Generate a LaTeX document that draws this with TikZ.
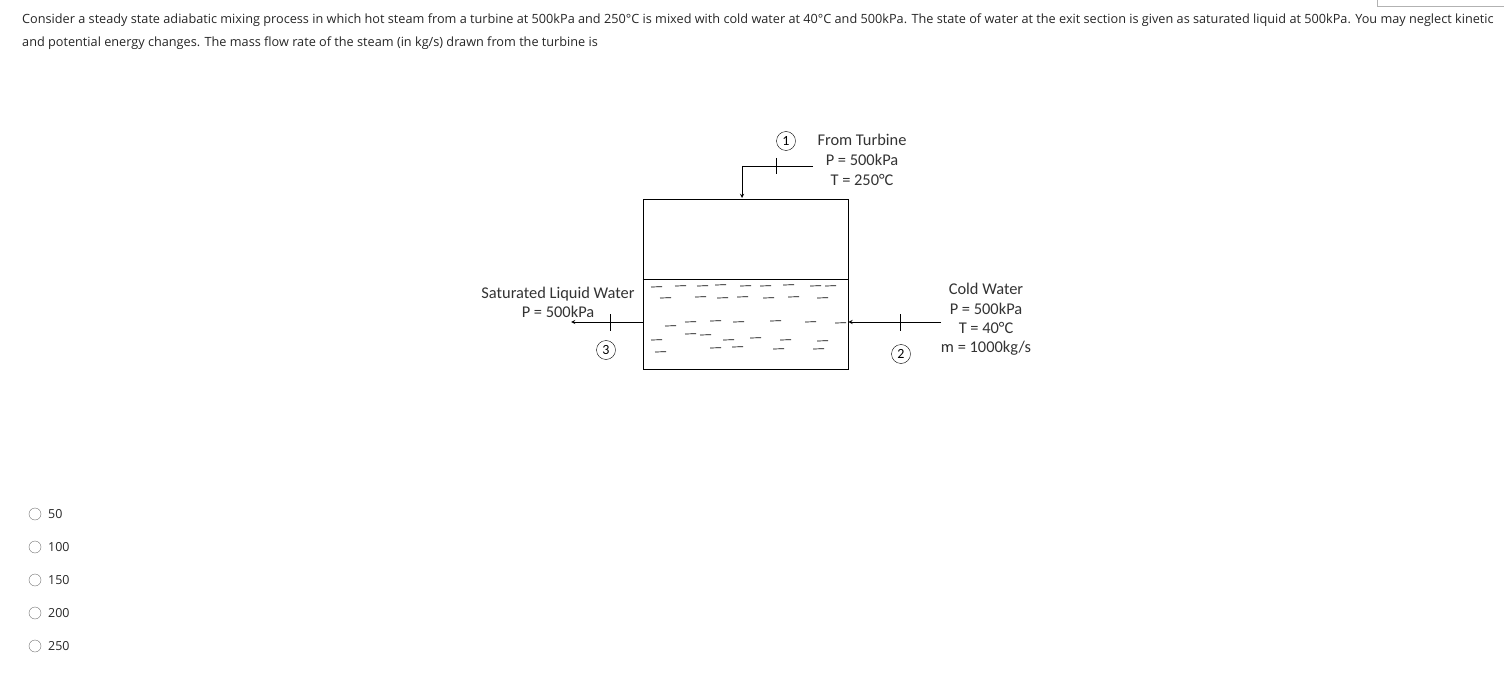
\documentclass[tikz,border=0pt]{standalone}
\usepackage{fontspec}
\setmainfont{Open Sans}
\newfontfamily\diafont{Carlito}
\newcommand{\mdotx}{\ooalign{m\cr\hidewidth\raisebox{0.62ex}{.}\hidewidth\cr}}
\begin{document}
\begin{tikzpicture}[x=1pt,y=-1pt,
  q/.style={anchor=base west,inner sep=0pt,font=\fontsize{12.7}{14}\selectfont,text=black!85},
  lab/.style={inner sep=0pt,font=\diafont\fontsize{16.4}{18}\selectfont,text=black!80},
  num/.style={circle,draw,minimum size=19pt,inner sep=0pt,font=\diafont\fontsize{14}{16}\selectfont},
  pipe/.style={line width=0.9pt,-stealth},
  radio/.style={circle,draw=black!55,minimum size=12pt,inner sep=0pt},
  ans/.style={anchor=west,inner sep=0pt,font=\fontsize{12.45}{14}\selectfont,text=black!85}]
\useasboundingbox (0,0) rectangle (1504,676);
\draw[black!30] (1377,-2) -- (1377,6) -- (1506,6);
\node[q] (l1) at (22,24) {Consider a steady state adiabatic mixing process in which hot steam from a turbine at 500kPa and 250°C is mixed with cold water at 40°C and 500kPa. The state of water at the exit section is given as saturated liquid at 500kPa. You may neglect kinetic};
\node[q] (l2) at (22,47) {and potential energy changes. The mass flow rate of the steam (in kg/s) drawn from the turbine is};
% tank
\node[draw,line width=0.8pt,minimum width=205pt,minimum height=170pt,inner sep=0pt] (tank) at (745.5,284) {};
\draw[line width=0.8pt] (tank.west |- 0,279) -- (tank.east |- 0,279);
% liquid strokes
\foreach \x/\y in {656/287,680/286,702/286,720/285,745/286,765/286,788/285,815/286,830/286,
 665/298,700/297,722/298,742/297,768/298,793/297,822/298,
 670/326,690/322,715/321,738/322,775/321,810/322,840/323,
 656/340,690/334,705/335,728/340,755/338,785/340,822/341,
 660/352,715/348,737/347,778/349,818/349}
  \draw[line width=0.7pt] (\x-5,\y) .. controls (\x,\y+0.6) .. (\x+6,\y-0.3);
% inlet 1
\coordinate (s1) at (813,166);
\coordinate (c1) at (742,166);
\draw[line width=0.9pt] (s1) -- (c1);
\draw[pipe] (c1) -- (742,198);
\draw[line width=0.6pt] (776,158) -- (776,174);
\node[num] (n1) at (786,141) {1};
\node[lab] (t1) at (862,140) {From Turbine};
\node[lab] (t1b) at (862,160) {P = 500kPa};
\node[lab] (t1c) at (862,180) {T = 250°C};
% outlet 3
\coordinate (o3) at (571,322);
\draw[pipe] (tank.west |- 0,322) -- (o3);
\draw[line width=0.6pt] (610,314) -- (610,331);
\node[num] (n3) at (606,350) {3};
\node[lab] (t3) at (558,294) {Saturated Liquid Water};
\node[lab] (t3b) at (558,312) {P = 500kPa};
% inlet 2
\coordinate (i2) at (941,322);
\draw[pipe] (i2) -- (tank.east |- 0,322);
\draw[line width=0.6pt] (900,314) -- (900,331);
\node[num] (n2) at (901,354) {2};
\node[lab] (t2) at (986,289) {Cold Water};
\node[lab] (t2b) at (986,309) {P = 500kPa};
\node[lab] (t2c) at (986,328) {T = 40°C};
\node[lab] (t2d) at (986,348) {\mdotx{} = 1000kg/s};
% answers
\foreach \v/\y in {50/514,100/547,150/580,200/613,250/646}{
  \node[radio] (r\v) at (35,\y) {};
  \node[ans] (a\v) at (48,\y) {\v};
}
\end{tikzpicture}
\end{document}
